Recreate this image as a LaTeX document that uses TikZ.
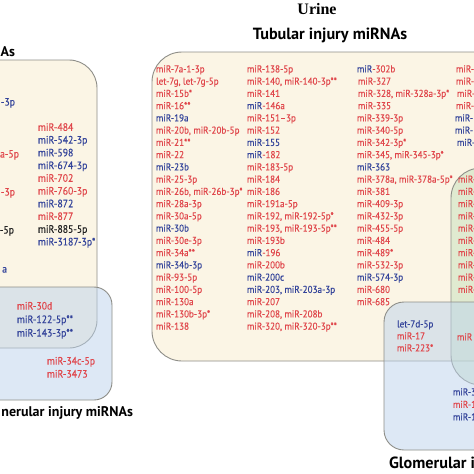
\documentclass[tikz,border=0pt]{standalone}
\usepackage{fontspec}
\setmainfont{PT Sans}
\newfontfamily\lblfont[FakeStretch=0.91,FakeBold=0.3]{PT Sans}
\newfontfamily\titleserif{Liberation Serif}
\definecolor{mred}{HTML}{E0464B}
\definecolor{mblue}{HTML}{33439A}
\definecolor{mblack}{HTML}{222222}
\definecolor{beige}{HTML}{FBF5E5}
\definecolor{bluef}{HTML}{BCD3EC}
\definecolor{greenf}{HTML}{C6E0BC}
\definecolor{edge}{HTML}{8E8E88}
\begin{document}
\begin{tikzpicture}[x=1pt,y=-1pt,
  every node/.style={inner sep=0pt,outer sep=0pt},
  lbl/.style={anchor=west,font=\lblfont\fontsize{10}{12}\selectfont,text height=7pt,text depth=2.2pt},
  big/.style={font=\lblfont\fontsize{10.7}{12}\selectfont,text height=7.4pt,text depth=2.3pt},
  lblE/.style={lbl,anchor=east},
  rd/.style={lbl,text=mred},
  bl/.style={lbl,text=mblue},
  bk/.style={lbl,text=mblack},
  ttl/.style={font=\fontsize{16.2}{18}\selectfont\bfseries,text=black},
  ttlL/.style={font=\fontsize{14}{16}\selectfont\bfseries,text=black},
  beigebox/.style={draw=edge,line width=0.9pt,fill=beige},
  bluebox/.style={draw=edge,line width=0.9pt,fill=bluef,fill opacity=0.5},
  greenbox/.style={draw=edge,line width=0.9pt,fill=greenf,fill opacity=0.5}]
\useasboundingbox (0,0) rectangle (474,474);
\clip (0,0) rectangle (474,474);
\fill[white] (0,0) rectangle (474,474);

% boxes
\path[beigebox,rounded corners=28pt] (-40,60) rectangle (97,348);
\path[beigebox,rounded corners=30pt] (152,52) rectangle (530,361);
\path[greenbox,rounded corners=30pt] (451,168) rectangle (530,385);
\path[bluebox,rounded corners=18pt] (-40,287) rectangle (112,400);
\path[bluebox,rounded corners=20pt] (384,302) rectangle (530,450);

% titles
\node[font=\titleserif\fontsize{16}{18}\selectfont\bfseries] (urine) at (317,9) {Urine};
\node[ttl] (ttub) at (330,35) {Tubular injury miRNAs};
\node[ttlL,anchor=east] (tleft) at (15,52) {As};
\node[ttlL,anchor=east] (tglomL) at (133,413) {nerular injury miRNAs};
\node[ttl,anchor=west] (tglomR) at (389,463) {Glomerular i};

% left group, partial column
\node[lblE,big,text=mblue] (l1) at (15,103) {-3p};
\node[lblE,big,text=mred] (l2) at (19,155) {a-5p};
\node[lblE,big,text=mred] (l3) at (15,193) {-3p};
\node[lblE,big,text=mblack] (l4) at (14,231) {-5p};
\node[lblE,big,text=mblue] (l5) at (7,270) {a};

% left group, second column
\node[rd,big] (m1) at (38,128.3) {miR-484};
\node[bl,big] (m2) at (38,141.0) {miR-542-3p};
\node[bl,big] (m3) at (38,153.8) {miR-598};
\node[bl,big] (m4) at (38,166.5) {miR-674-3p};
\node[rd,big] (m5) at (38,179.2) {miR-702};
\node[rd,big] (m6) at (38,192.0) {miR-760-3p};
\node[bl,big] (m7) at (38,204.7) {miR-872};
\node[rd,big] (m8) at (38,217.4) {miR-877};
\node[bk,big] (m9) at (38,230.2) {miR-885-5p};
\node[bl,big] (m10) at (38,242.9) {miR-3187-3p*};

% left overlap
\node[rd,big] (o1) at (17,307) {miR-30d};
\node[bl,big] (o2) at (17,320.5) {miR-122-5p**};
\node[bl,big] (o3) at (17,334) {miR-143-3p**};
\node[rd,big] (g1) at (47,362) {miR-34c-5p};
\node[rd,big] (g2) at (47,375) {miR-3473};

% tubular column 1
\node[rd] (a0) at (156,70.0) {miR-7a-1-3p};
\node[rd] (a1) at (156,82.25) {let-7g, let-7g-5p};
\node[rd] (a2) at (156,94.5) {miR-15b*};
\node[rd] (a3) at (156,106.75) {miR-16**};
\node[bl] (a4) at (156,119.0) {miR-19a};
\node[rd] (a5) at (156,131.25) {miR-20b, miR-20b-5p};
\node[rd] (a6) at (156,143.5) {miR-21**};
\node[rd] (a7) at (156,155.75) {miR-22};
\node[bl] (a8) at (156,168.0) {miR-23b};
\node[rd] (a9) at (156,180.25) {miR-25-3p};
\node[rd] (a10) at (156,192.5) {miR-26b, miR-26b-3p*};
\node[rd] (a11) at (156,204.75) {miR-28a-3p};
\node[rd] (a12) at (156,217.0) {miR-30a-5p};
\node[bl] (a13) at (156,229.25) {miR-30b};
\node[rd] (a14) at (156,241.5) {miR-30e-3p};
\node[rd] (a15) at (156,253.75) {miR-34a**};
\node[bl] (a16) at (156,266.0) {miR-34b-3p};
\node[rd] (a17) at (156,278.25) {miR-93-5p};
\node[rd] (a18) at (156,290.5) {miR-100-5p};
\node[rd] (a19) at (156,302.75) {miR-130a};
\node[rd] (a20) at (156,315.0) {miR-130b-3p*};
\node[rd] (a21) at (156,327.25) {miR-138};

% tubular column 2
\node[rd] (b0) at (247,70.0) {miR-138-5p};
\node[rd] (b1) at (247,82.25) {miR-140, miR-140-3p**};
\node[rd] (b2) at (247,94.5) {miR-141};
\node[rd] (b3) at (247,106.75) {{\color{mblue}miR}-146a};
\node[rd] (b4) at (247,119.0) {miR-151–3p};
\node[rd] (b5) at (247,131.25) {miR-152};
\node[bl] (b6) at (247,143.5) {miR-155};
\node[rd] (b7) at (247,155.75) {{\color{mblue}miR}-182};
\node[rd] (b8) at (247,168.0) {miR-183-5p};
\node[rd] (b9) at (247,180.25) {miR-184};
\node[rd] (b10) at (247,192.5) {miR-186};
\node[rd] (b11) at (247,204.75) {miR-191a-5p};
\node[rd] (b12) at (247,217.0) {miR-192, miR-192-5p*};
\node[rd] (b13) at (247,229.25) {miR-193, miR-193-5p**};
\node[rd] (b14) at (247,241.5) {miR-193b};
\node[rd] (b15) at (247,253.75) {{\color{mblue}miR}-196};
\node[rd] (b16) at (247,266.0) {miR-200b};
\node[bl] (b17) at (247,278.25) {miR-200c};
\node[bl] (b18) at (247,290.5) {miR-203, miR-203a-3p};
\node[rd] (b19) at (247,302.75) {miR-207};
\node[rd] (b20) at (247,315.0) {miR-208, miR-208b};
\node[rd] (b21) at (247,327.25) {miR-320, miR-320-3p**};

% tubular column 3
\node[rd] (c0) at (357,70.0) {{\color{mblue}miR}-302b};
\node[rd] (c1) at (358,82.25) {miR-327};
\node[rd] (c2) at (358,94.5) {miR-328, miR-328a-3p*};
\node[rd] (c3) at (358,106.75) {miR-335};
\node[rd] (c4) at (357,119.0) {miR-339-3p};
\node[rd] (c5) at (357,131.25) {miR-340-5p};
\node[rd] (c6) at (357,143.5) {miR-342-3p*};
\node[rd] (c7) at (357,155.75) {miR-345, miR-345-3p*};
\node[bl] (c8) at (357,168.0) {miR-363};
\node[rd] (c9) at (357,180.25) {miR-378a, miR-378a-5p*};
\node[rd] (c10) at (357,192.5) {miR-381};
\node[rd] (c11) at (357,204.75) {miR-409-3p};
\node[rd] (c12) at (357,217.0) {miR-432-3p};
\node[rd] (c13) at (357,229.25) {miR-455-5p};
\node[rd] (c14) at (357,241.5) {miR-484};
\node[rd] (c15) at (357,253.75) {miR-489*};
\node[rd] (c16) at (357,266.0) {miR-532-3p};
\node[bl] (c17) at (357,278.25) {miR-574-3p};
\node[rd] (c18) at (357,290.5) {miR-680};
\node[rd] (c19) at (357,302.75) {miR-685};

% tubular column 4 (cut at the edge)
\node[rd] (d0) at (456,70.0) {miR-};
\node[rd] (d1) at (456,82.25) {miR-};
\node[rd] (d2) at (457,94.5) {miR-};
\node[rd] (d3) at (456,106.75) {miR-};
\node[bl] (d4) at (455,119.0) {miR-};
\node[bl] (d5) at (455,131.25) {miR-};
\node[bl] (d6) at (457,143.5) {miR-};
\node[rd] (e0) at (458,180.25) {miR-};
\node[rd] (e1) at (458,192.5) {miR-};
\node[rd] (e2) at (458,204.75) {miR-};
\node[rd] (e3) at (458,217.0) {miR-};
\node[rd] (e4) at (458,229.25) {miR-};
\node[rd] (e5) at (458,241.5) {miR-};
\node[rd] (e6) at (458,253.75) {miR-};
\node[rd] (e7) at (458,266.0) {miR-};
\node[rd] (e8) at (458,278.25) {miR-};
\node[rd] (e9) at (458,290.5) {miR-};

% right glomerular
\node[bl] (r1) at (397,325) {let-7d-5p};
\node[rd] (r2) at (397,337) {miR-17};
\node[rd] (r3) at (397,349) {miR-223*};
\node[rd] (r4) at (457,338) {miR};
\node[bl] (r5) at (453,393) {miR-3};
\node[rd] (r6) at (453,405.5) {miR-1};
\node[bl] (r7) at (453,418) {miR-1};
\end{tikzpicture}
\end{document}
